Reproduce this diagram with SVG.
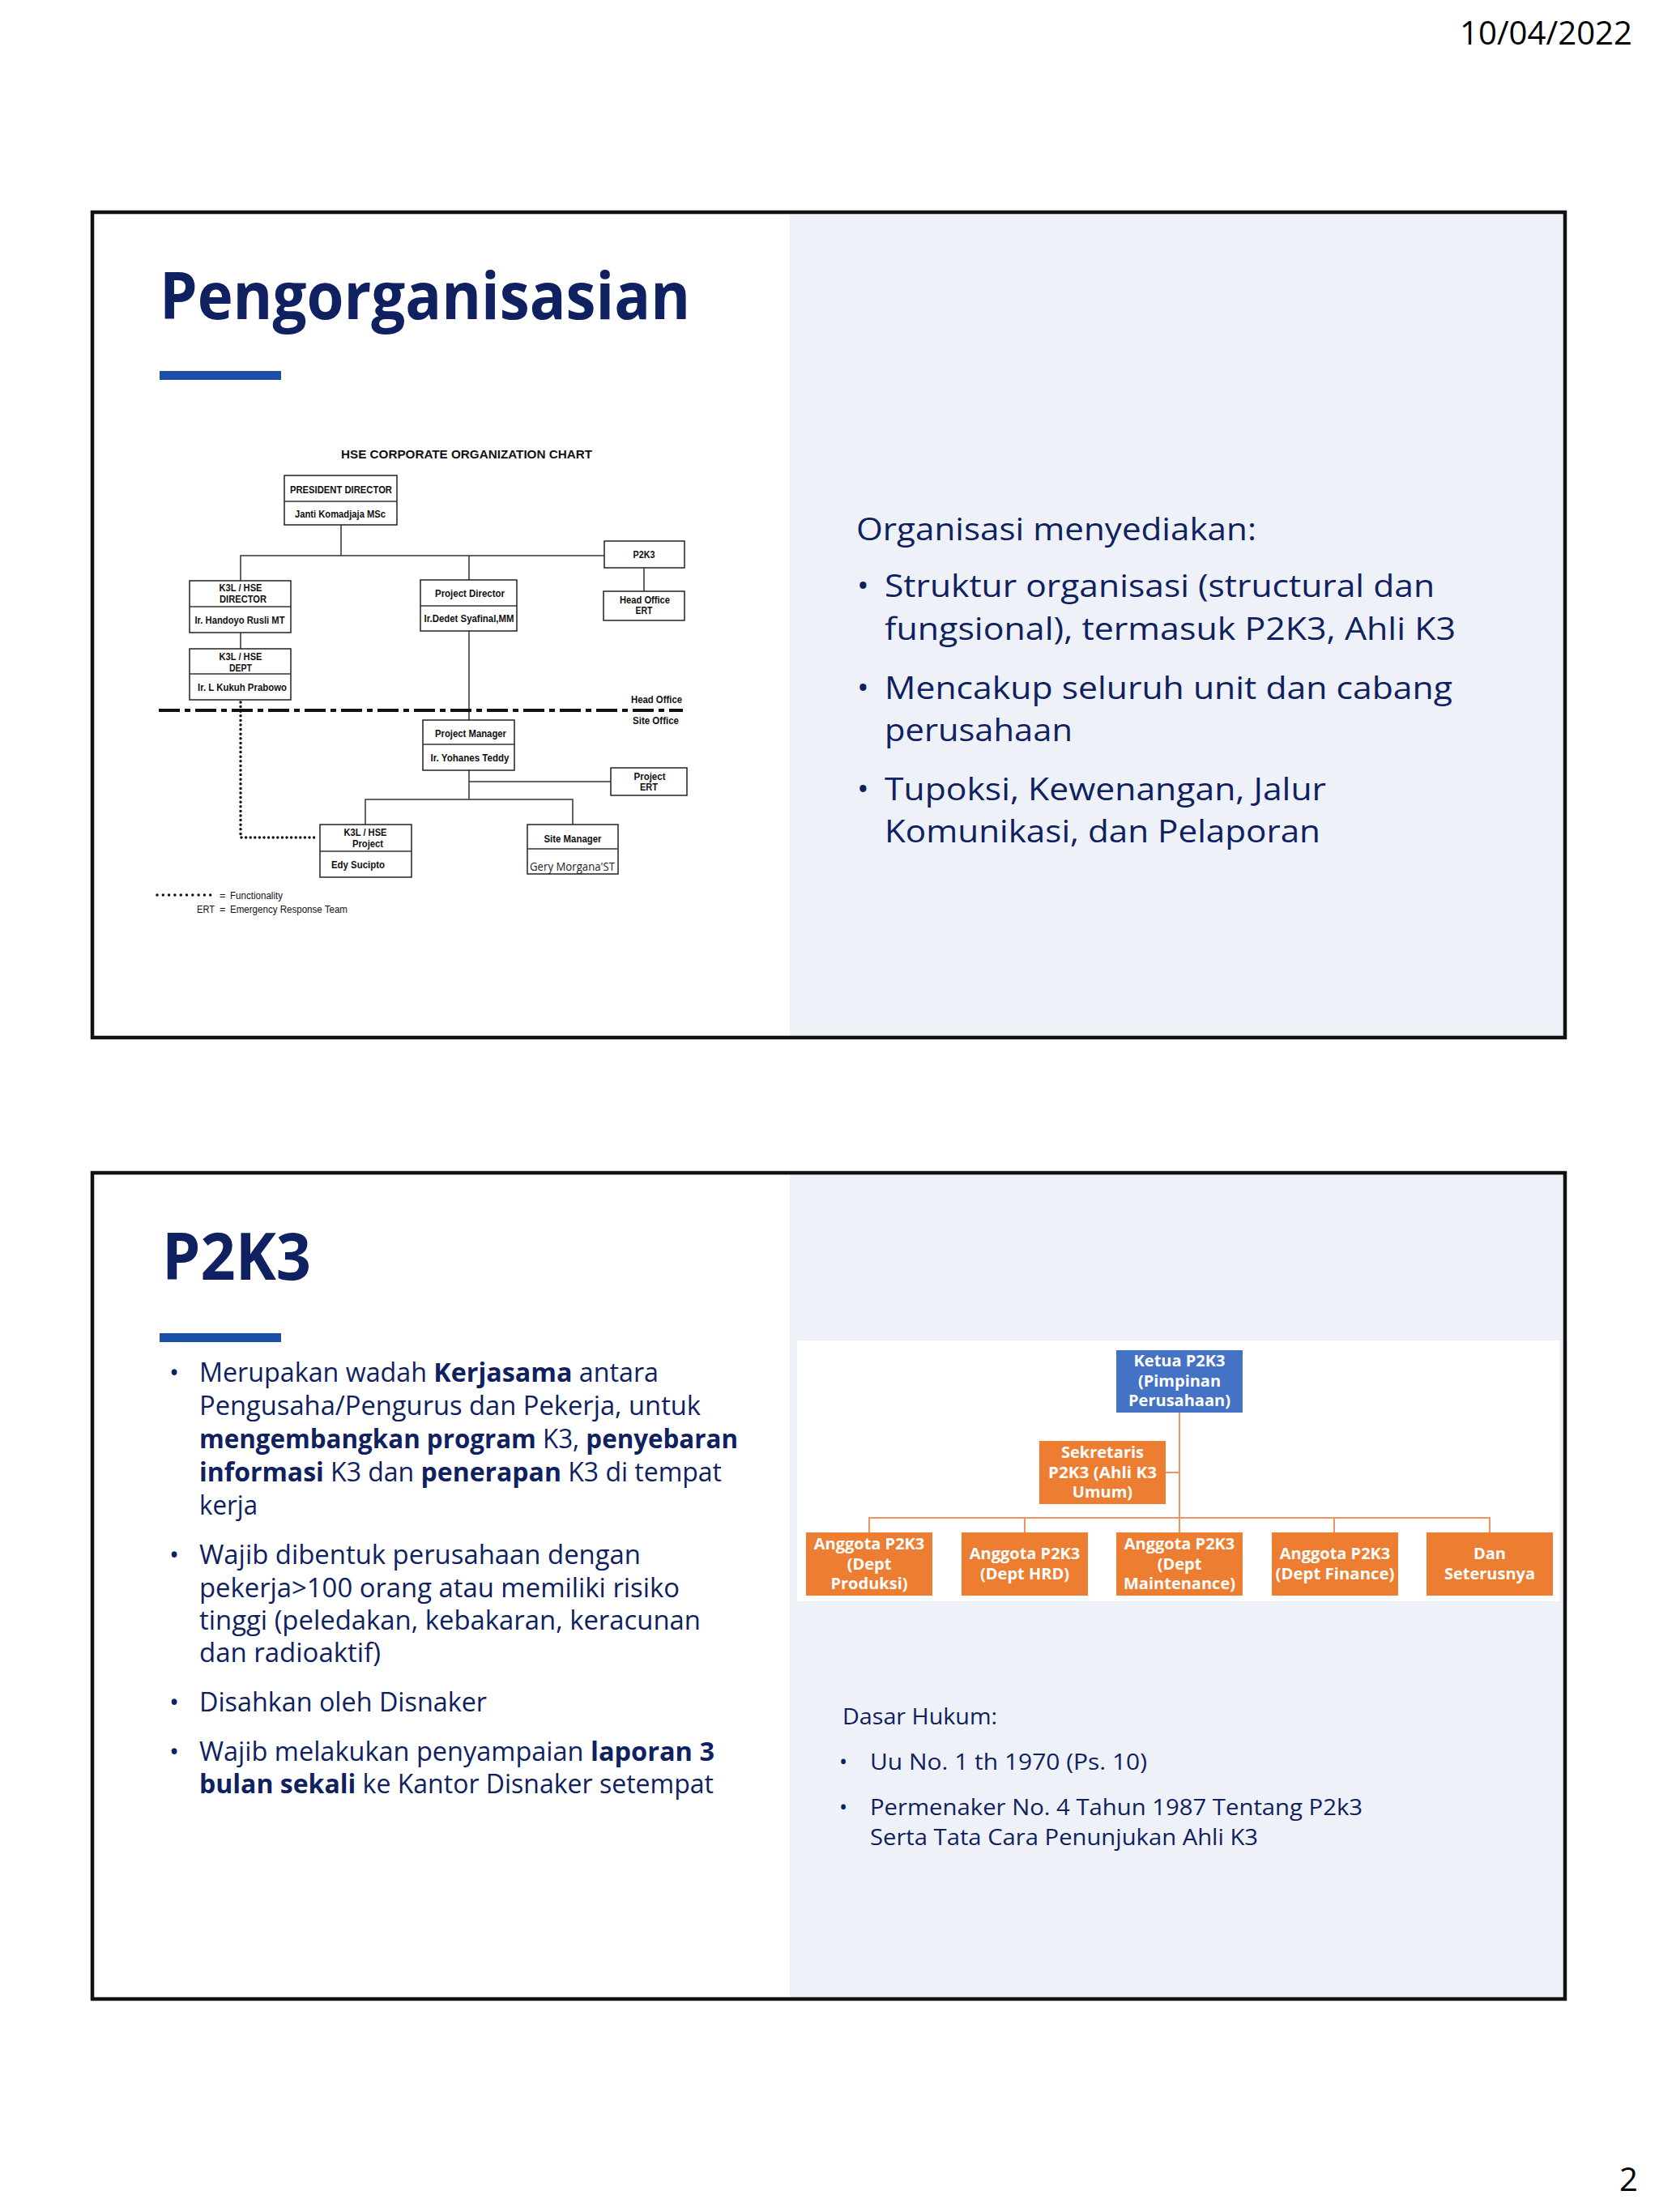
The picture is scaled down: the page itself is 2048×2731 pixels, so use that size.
<svg xmlns="http://www.w3.org/2000/svg" width="2048" height="2731" viewBox="0 0 2048 2731">
<style>
.frame{fill:none;stroke:#111;stroke-width:4.5}
.panel{fill:#eef2f8}
.t{font-family:"Open Sans","Noto Sans",sans-serif;fill:#0f2160}
.b{font-weight:700}
.title{font-family:"Open Sans","Noto Sans",sans-serif;font-weight:700;font-size:80px;fill:#0f2160}
.bar{fill:#1e4fa6}
.oc{font-family:"Liberation Sans",Arial,sans-serif;font-weight:700;font-size:12px;fill:#111;text-anchor:middle}
.ocl{font-family:"Liberation Sans",Arial,sans-serif;font-size:12.5px;fill:#111}
.box{fill:#fff;stroke:#222;stroke-width:1.5}
.ln{fill:none;stroke:#333;stroke-width:1.5}
.ck{font-family:"Open Sans","Noto Sans",sans-serif;font-weight:700;font-size:20px;fill:#fff;text-anchor:middle}
.blue{fill:#4472c4}
.orange{fill:#ed7d31}
.oln{fill:none;stroke:#ef9460;stroke-width:2}
</style>
<rect width="2048" height="2731" fill="#fff"/>
<text class="t" x="1802" y="55" font-size="40" textLength="213" lengthAdjust="spacingAndGlyphs" style="fill:#000">10/04/2022</text>
<text class="t" x="1999" y="2705" font-size="40" style="fill:#000">2</text>

<!-- Slide 1 -->
<g id="slide1">
<rect class="panel" x="975" y="261" width="958" height="1021"/>
<rect class="frame" x="114" y="262" width="1818" height="1019"/>
<text class="title" x="197" y="394" textLength="655" lengthAdjust="spacingAndGlyphs">Pengorganisasian</text>
<rect class="bar" x="197" y="458" width="150" height="11"/>
<text class="t" x="1057" y="667" font-size="39" textLength="494" lengthAdjust="spacingAndGlyphs">Organisasi menyediakan:</text>
<text class="t" x="1058" y="737" font-size="39">•</text>
<text class="t" x="1092" y="737" font-size="39" textLength="679" lengthAdjust="spacingAndGlyphs">Struktur organisasi (structural dan</text>
<text class="t" x="1092" y="790" font-size="39" textLength="705" lengthAdjust="spacingAndGlyphs">fungsional), termasuk P2K3, Ahli K3</text>
<text class="t" x="1058" y="863" font-size="39">•</text>
<text class="t" x="1092" y="863" font-size="39" textLength="701" lengthAdjust="spacingAndGlyphs">Mencakup seluruh unit dan cabang</text>
<text class="t" x="1092" y="915" font-size="39" textLength="232" lengthAdjust="spacingAndGlyphs">perusahaan</text>
<text class="t" x="1058" y="988" font-size="39">•</text>
<text class="t" x="1092" y="988" font-size="39" textLength="545" lengthAdjust="spacingAndGlyphs">Tupoksi, Kewenangan, Jalur</text>
<text class="t" x="1092" y="1040" font-size="39" textLength="538" lengthAdjust="spacingAndGlyphs">Komunikasi, dan Pelaporan</text>
</g>

<!-- HSE org chart -->
<g id="hse-chart">
<text class="oc" x="576" y="566" style="font-size:15px" textLength="310" lengthAdjust="spacingAndGlyphs">HSE CORPORATE ORGANIZATION CHART</text>
<g id="connectors-hse">
<path class="ln" d="M421,648 V686 M297,717 V686 H746 M579,686 V716 M795,701 V730 M297,781 V801 M579,779 V889 M579,951 V987 M579,965 H754 M451,1018 V987 H707 V1018"/>
<path d="M297,867 V1034 H393" fill="none" stroke="#111" stroke-width="3.5" stroke-linecap="round" stroke-dasharray="0 5.6"/>
<line x1="196" y1="877" x2="843" y2="877" stroke="#111" stroke-width="4" stroke-dasharray="26 6 7 6"/>
</g>
<g id="president"><rect class="box" x="351" y="587" width="139" height="61"/><line class="ln" x1="351" y1="619" x2="490" y2="619"/>
<text class="oc" x="421" y="608.5" textLength="126" lengthAdjust="spacingAndGlyphs">PRESIDENT DIRECTOR</text>
<text class="oc" x="420" y="638.5" textLength="112" lengthAdjust="spacingAndGlyphs">Janti Komadjaja MSc</text></g>
<g id="p2k3"><rect class="box" x="746" y="668" width="99" height="33"/>
<text class="oc" x="795" y="688.5" textLength="27" lengthAdjust="spacingAndGlyphs">P2K3</text></g>
<g id="head-ert"><rect class="box" x="745" y="730" width="100" height="36"/>
<text class="oc" x="796" y="745" textLength="62" lengthAdjust="spacingAndGlyphs">Head Office</text>
<text class="oc" x="795" y="758" textLength="21" lengthAdjust="spacingAndGlyphs">ERT</text></g>
<g id="k3l-director"><rect class="box" x="234" y="717" width="125" height="64"/><line class="ln" x1="234" y1="749" x2="359" y2="749"/>
<text class="oc" x="297" y="730" textLength="53" lengthAdjust="spacingAndGlyphs">K3L / HSE</text>
<text class="oc" x="300" y="744" textLength="58" lengthAdjust="spacingAndGlyphs">DIRECTOR</text>
<text class="oc" x="296" y="769.5" textLength="111" lengthAdjust="spacingAndGlyphs">Ir. Handoyo Rusli MT</text></g>
<g id="project-director"><rect class="box" x="519" y="716" width="119" height="63"/><line class="ln" x1="519" y1="748" x2="638" y2="748"/>
<text class="oc" x="580" y="736.5" textLength="86" lengthAdjust="spacingAndGlyphs">Project Director</text>
<text class="oc" x="579" y="767.5" textLength="111" lengthAdjust="spacingAndGlyphs">Ir.Dedet Syafinal,MM</text></g>
<g id="k3l-dept"><rect class="box" x="234" y="801" width="125" height="63"/><line class="ln" x1="234" y1="832" x2="359" y2="832"/>
<text class="oc" x="297" y="815" textLength="53" lengthAdjust="spacingAndGlyphs">K3L / HSE</text>
<text class="oc" x="297" y="829" textLength="28" lengthAdjust="spacingAndGlyphs">DEPT</text>
<text class="oc" x="299" y="852.5" textLength="110" lengthAdjust="spacingAndGlyphs">Ir. L Kukuh Prabowo</text></g>
<text class="oc" x="842" y="868" style="text-anchor:end" textLength="63" lengthAdjust="spacingAndGlyphs">Head Office</text>
<text class="oc" x="838" y="894" style="text-anchor:end" textLength="57" lengthAdjust="spacingAndGlyphs">Site Office</text>
<g id="project-manager"><rect class="box" x="522" y="889" width="113" height="62"/><line class="ln" x1="522" y1="919" x2="635" y2="919"/>
<text class="oc" x="581" y="909.5" textLength="88" lengthAdjust="spacingAndGlyphs">Project Manager</text>
<text class="oc" x="580" y="939.5" textLength="97" lengthAdjust="spacingAndGlyphs">Ir. Yohanes Teddy</text></g>
<g id="project-ert"><rect class="box" x="754" y="948" width="94" height="34"/>
<text class="oc" x="802" y="963" textLength="39" lengthAdjust="spacingAndGlyphs">Project</text>
<text class="oc" x="801" y="976" textLength="22" lengthAdjust="spacingAndGlyphs">ERT</text></g>
<g id="k3l-project"><rect class="box" x="395" y="1018" width="113" height="65"/><line class="ln" x1="395" y1="1051" x2="508" y2="1051"/>
<text class="oc" x="451" y="1032" textLength="53" lengthAdjust="spacingAndGlyphs">K3L / HSE</text>
<text class="oc" x="454" y="1046" textLength="38" lengthAdjust="spacingAndGlyphs">Project</text>
<text class="oc" x="409" y="1071.5" style="text-anchor:start" textLength="66" lengthAdjust="spacingAndGlyphs">Edy Sucipto</text></g>
<g id="site-manager"><rect class="box" x="651" y="1018" width="112" height="61"/><line class="ln" x1="651" y1="1048" x2="763" y2="1048"/>
<text class="oc" x="707" y="1039.5" textLength="71" lengthAdjust="spacingAndGlyphs">Site Manager</text>
<text x="654" y="1075" font-family="Open Sans, sans-serif" font-size="14" fill="#222" textLength="105" lengthAdjust="spacingAndGlyphs">Gery Morgana'ST</text></g>
<g id="legend">
<line x1="194" y1="1105" x2="260" y2="1105" stroke="#111" stroke-width="3.5" stroke-linecap="round" stroke-dasharray="0 7.3"/>
<text class="ocl" x="271" y="1110">=</text>
<text class="ocl" x="284" y="1110" textLength="65" lengthAdjust="spacingAndGlyphs">Functionality</text>
<text class="ocl" x="243" y="1127" textLength="22" lengthAdjust="spacingAndGlyphs">ERT</text>
<text class="ocl" x="271" y="1127">=</text>
<text class="ocl" x="284" y="1127" textLength="145" lengthAdjust="spacingAndGlyphs">Emergency Response Team</text>
</g>
</g>

<!-- Slide 2 -->
<g id="slide2">
<rect class="panel" x="975" y="1447" width="958" height="1022"/>
<rect class="frame" x="114" y="1448" width="1818" height="1020"/>
<text class="title" x="200" y="1580" textLength="184" lengthAdjust="spacingAndGlyphs">P2K3</text>
<rect class="bar" x="197" y="1646" width="150" height="11"/>
<g font-size="32">
<text class="t" x="209" y="1706">•</text>
<text class="t" x="246" y="1706" textLength="567" lengthAdjust="spacingAndGlyphs">Merupakan wadah <tspan class="b">Kerjasama</tspan> antara</text>
<text class="t" x="246" y="1747" textLength="619" lengthAdjust="spacingAndGlyphs">Pengusaha/Pengurus dan Pekerja, untuk</text>
<text class="t" x="246" y="1788" textLength="665" lengthAdjust="spacingAndGlyphs"><tspan class="b">mengembangkan program</tspan> K3, <tspan class="b">penyebaran</tspan></text>
<text class="t" x="246" y="1829" textLength="645" lengthAdjust="spacingAndGlyphs"><tspan class="b">informasi</tspan> K3 dan <tspan class="b">penerapan</tspan> K3 di tempat</text>
<text class="t" x="246" y="1870" textLength="72" lengthAdjust="spacingAndGlyphs">kerja</text>
<text class="t" x="209" y="1931">•</text>
<text class="t" x="246" y="1931" textLength="545" lengthAdjust="spacingAndGlyphs">Wajib dibentuk perusahaan dengan</text>
<text class="t" x="246" y="1972" textLength="593" lengthAdjust="spacingAndGlyphs">pekerja&gt;100 orang atau memiliki risiko</text>
<text class="t" x="246" y="2012" textLength="619" lengthAdjust="spacingAndGlyphs">tinggi (peledakan, kebakaran, keracunan</text>
<text class="t" x="246" y="2052" textLength="224" lengthAdjust="spacingAndGlyphs">dan radioaktif)</text>
<text class="t" x="209" y="2113">•</text>
<text class="t" x="246" y="2113" textLength="355" lengthAdjust="spacingAndGlyphs">Disahkan oleh Disnaker</text>
<text class="t" x="209" y="2174">•</text>
<text class="t" x="246" y="2174" textLength="636" lengthAdjust="spacingAndGlyphs">Wajib melakukan penyampaian <tspan class="b">laporan 3</tspan></text>
<text class="t" x="246" y="2214" textLength="635" lengthAdjust="spacingAndGlyphs"><tspan class="b">bulan sekali</tspan> ke Kantor Disnaker setempat</text>
</g>
<g font-size="27">
<text class="t" x="1040" y="2129" textLength="191" lengthAdjust="spacingAndGlyphs">Dasar Hukum:</text>
<text class="t" x="1036" y="2185">•</text>
<text class="t" x="1074" y="2185" textLength="342" lengthAdjust="spacingAndGlyphs">Uu No. 1 th 1970 (Ps. 10)</text>
<text class="t" x="1036" y="2241">•</text>
<text class="t" x="1074" y="2241" textLength="608" lengthAdjust="spacingAndGlyphs">Permenaker No. 4 Tahun 1987 Tentang P2k3</text>
<text class="t" x="1074" y="2278" textLength="479" lengthAdjust="spacingAndGlyphs">Serta Tata Cara Penunjukan Ahli K3</text>
</g>
</g>

<!-- P2K3 chart -->
<g id="p2k3-chart">
<rect x="984" y="1655" width="941" height="322" fill="#fff"/>
<g id="connectors-p2k3">
<path class="oln" d="M1456,1744 V1892 M1439,1818 H1456 M1073,1892 V1874 H1839 V1892 M1265,1874 V1892 M1647,1874 V1892"/>
</g>
<g id="ketua"><rect class="blue" x="1378" y="1667" width="156" height="77"/>
<text class="ck" x="1456" y="1687">Ketua P2K3</text>
<text class="ck" x="1456" y="1712">(Pimpinan</text>
<text class="ck" x="1456" y="1736">Perusahaan)</text></g>
<g id="sekretaris"><rect class="orange" x="1283" y="1779" width="156" height="78"/>
<text class="ck" x="1361" y="1800">Sekretaris</text>
<text class="ck" x="1361" y="1825" textLength="134" lengthAdjust="spacingAndGlyphs">P2K3 (Ahli K3</text>
<text class="ck" x="1361" y="1849">Umum)</text></g>
<g id="anggota-produksi"><rect class="orange" x="995" y="1892" width="156" height="78"/>
<text class="ck" x="1073" y="1913">Anggota P2K3</text>
<text class="ck" x="1073" y="1938">(Dept</text>
<text class="ck" x="1073" y="1962">Produksi)</text></g>
<g id="anggota-hrd"><rect class="orange" x="1187" y="1892" width="156" height="78"/>
<text class="ck" x="1265" y="1925">Anggota P2K3</text>
<text class="ck" x="1265" y="1950">(Dept HRD)</text></g>
<g id="anggota-maintenance"><rect class="orange" x="1378" y="1892" width="156" height="78"/>
<text class="ck" x="1456" y="1913">Anggota P2K3</text>
<text class="ck" x="1456" y="1938">(Dept</text>
<text class="ck" x="1456" y="1962" textLength="138" lengthAdjust="spacingAndGlyphs">Maintenance)</text></g>
<g id="anggota-finance"><rect class="orange" x="1570" y="1892" width="156" height="78"/>
<text class="ck" x="1648" y="1925">Anggota P2K3</text>
<text class="ck" x="1648" y="1950" textLength="147" lengthAdjust="spacingAndGlyphs">(Dept Finance)</text></g>
<g id="dan-seterusnya"><rect class="orange" x="1761" y="1892" width="156" height="78"/>
<text class="ck" x="1839" y="1925">Dan</text>
<text class="ck" x="1839" y="1950">Seterusnya</text></g>
</g>
</svg>
